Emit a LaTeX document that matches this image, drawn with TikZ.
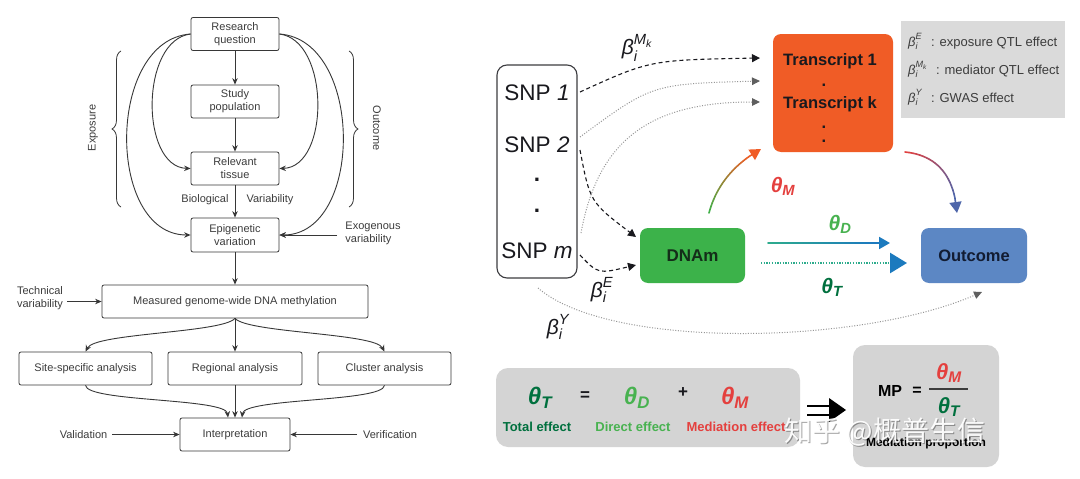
\documentclass[tikz,border=0pt]{standalone}
\usepackage{amsmath}
\usepackage{fontspec}
\setmainfont{Liberation Sans}
\newfontfamily\cjk{Noto Sans CJK SC}
\usetikzlibrary{arrows.meta,decorations.pathreplacing,calc}

\definecolor{flowtext}{RGB}{60,60,60}
\definecolor{flowline}{RGB}{55,55,55}
\definecolor{orangeT}{RGB}{240,92,38}
\definecolor{greenD}{RGB}{60,178,74}
\definecolor{blueO}{RGB}{92,135,196}
\definecolor{blueArr}{RGB}{78,102,170}
\definecolor{legray}{RGB}{218,218,218}
\definecolor{boxgray}{RGB}{212,212,212}
\definecolor{redM}{RGB}{228,64,62}
\definecolor{greenLt}{RGB}{72,178,80}
\definecolor{greenDk}{RGB}{0,112,62}
\definecolor{tealT}{RGB}{45,172,140}
\definecolor{blueT}{RGB}{28,122,190}
\definecolor{darktxt}{RGB}{25,25,30}
\definecolor{dotgray}{RGB}{150,150,150}
\definecolor{tipgray}{RGB}{95,95,95}

\newcommand\thsub[1]{θ\textsubscript{#1}}
\newcommand\bsym[1]{$\text{\itshape β}_{\text{\itshape i}}^{#1}$}
\newcommand\gradcurve[6]{%
  \foreach \gi in {1,...,20}{%
    \pgfmathsetmacro\gta{(\gi-1)*0.0425}%
    \pgfmathsetmacro\gtb{\gi*0.0425}%
    \pgfmathtruncatemacro\gpc{(\gi-0.5)*5}%
    \draw[line width=#6, line cap=round, draw=#5!\gpc!#4]
      ($($(#1)!\gta!(#2)$)!\gta!($(#2)!\gta!(#3)$)$) --
      ($($(#1)!\gtb!(#2)$)!\gtb!($(#2)!\gtb!(#3)$)$);
  }%
  \draw[line width=#6, draw=#5, -{Triangle[length=11pt,width=12pt]}]
    ($($(#1)!0.85!(#2)$)!0.85!($(#2)!0.85!(#3)$)$) -- (#3);
}

\tikzset{
  fbox/.style={draw=flowline, line width=0.8pt, rounded corners=2pt,
    minimum height=33pt, text=flowtext, font=\fontsize{11}{13}\selectfont,
    align=center, inner sep=1pt},
  farr/.style={draw=flowline, line width=0.9pt, -{Stealth[length=6.5pt,width=5.5pt]}},
  flab/.style={text=flowtext, font=\fontsize{11}{13}\selectfont, align=left, inner sep=0pt},
  snptxt/.style={font=\fontsize{22.5}{26}\selectfont, text=darktxt, inner sep=0pt},
  ttxt/.style={font=\bfseries\fontsize{16.5}{19}\selectfont, text=darktxt, inner sep=0pt},
  legtxt/.style={font=\fontsize{13}{15}\selectfont, text=flowtext, inner sep=0pt, anchor=base west},
  thlab/.style={font=\bfseries\itshape\fontsize{21}{24}\selectfont, inner sep=0pt},
  bigth/.style={font=\bfseries\itshape\fontsize{24}{26}\selectfont, inner sep=0pt},
  efflab/.style={font=\bfseries\fontsize{13}{15}\selectfont, inner sep=0pt},
  betalab/.style={font=\fontsize{21}{24}\selectfont, text=darktxt, inner sep=0pt},
  dasharr/.style={draw=darktxt, line width=1.1pt, dash pattern=on 4pt off 3pt,
    -{Triangle[length=8pt,width=8pt]}},
  dotarr/.style={draw=dotgray, line width=1pt, dash pattern=on 1pt off 1.6pt,
    -{Triangle[length=8pt,width=7.5pt,color=tipgray,fill=tipgray]}},
  colbox/.style={draw=none, rounded corners=8pt},
}

\begin{document}
\begin{tikzpicture}[x=1pt,y=-1pt]
\useasboundingbox (0,0) rectangle (1080,479);
\fill[white] (0,0) rectangle (1080,479);

% ---------------- left flowchart ----------------
\node[fbox, minimum width=88pt] (rq) at (235,34) {Research\\question};
\node[fbox, minimum width=88pt] (sp) at (235,101.5) {Study\\population};
\node[fbox, minimum width=88pt] (rt) at (235,168.5) {Relevant\\tissue};
\node[fbox, minimum width=88pt, minimum height=34pt] (ev) at (235,235) {Epigenetic\\variation};
\node[fbox, minimum width=266pt] (mg) at (235,301.5) {Measured genome-wide DNA methylation};
\node[fbox, minimum width=133pt] (ss) at (85.5,368.5) {Site-specific analysis};
\node[fbox, minimum width=134pt] (ra) at (235,368.5) {Regional analysis};
\node[fbox, minimum width=133pt] (ca) at (384.5,368.5) {Cluster analysis};
\node[fbox, minimum width=110pt] (ip) at (235,434.5) {Interpretation};

\draw[farr] (rq) -- (sp);
\draw[farr] (sp) -- (rt);
\draw[farr] (rt) -- (ev);
\draw[farr] (ev) -- (mg);
\draw[farr] (mg) -- (ra);
\draw[farr] (ra) -- (ip);

\draw[farr] (rq.west) .. controls (140,40) and (140,167) .. (rt.west);
\draw[farr] (rq.west) .. controls (106,40) and (106,235) .. (ev.west);
\draw[farr] (rq.east) .. controls (330,40) and (330,167) .. (rt.east);
\draw[farr] (rq.east) .. controls (364,40) and (364,235) .. (ev.east);

\draw[farr] (mg.south) .. controls (222,333) and (95,333) .. (ss.north);
\draw[farr] (mg.south) .. controls (248,333) and (375,333) .. (ca.north);
\draw[farr] (ss.south) .. controls (87,402) and (226,398) .. ([xshift=-7pt]ip.north);
\draw[farr] (ca.south) .. controls (383,402) and (244,398) .. ([xshift=7pt]ip.north);

\draw[flowline, line width=0.8pt, decorate, decoration={brace, amplitude=9pt}] (121,207) -- (121,51);
\draw[flowline, line width=0.8pt, decorate, decoration={brace, amplitude=9pt}] (349,51) -- (349,207);
\node[flab, rotate=90] (expo) at (93,128) {Exposure};
\node[flab, rotate=-90] (outc) at (377,128) {Outcome};

\node[flab] (bio) at (205,199.5) {Biological};
\node[flab] (var) at (270,199.5) {Variability};

\node[flab] (exo) at (373,233) {Exogenous\\variability};
\coordinate (exoa) at (337,235);
\draw[farr] (exoa) -- (ev.east);

\node[flab] (tech) at (40,298.5) {Technical\\variability};
\coordinate (techa) at (67,301.5);
\draw[farr] (techa) -- (mg.west);

\node[flab] (val) at (83.5,434.5) {Validation};
\coordinate (vala) at (112,434.5);
\draw[farr] (vala) -- (ip.west);

\node[flab] (ver) at (390,434.5) {Verification};
\coordinate (vera) at (357,434.5);
\draw[farr] (vera) -- (ip.east);

% ---------------- right diagram ----------------
\node[draw=darktxt!85, line width=1.1pt, rounded corners=10pt, minimum width=80pt,
      minimum height=213pt] (snp) at (537,171.5) {};
\node[snptxt, anchor=base] (s1) at (537,100) {SNP \textit{1}};
\node[snptxt, anchor=base] (s2) at (537,152) {SNP \textit{2}};
\node[snptxt] (sd1) at (537,180) {\textbf{.}};
\node[snptxt] (sd2) at (537,211) {\textbf{.}};
\node[snptxt, anchor=base] (sm) at (537,258) {SNP \textit{m}};

\node[colbox, fill=orangeT, minimum width=120pt, minimum height=118pt] (tr) at (833,93) {};
\node[ttxt, anchor=base] (tr1) at (830,65) {Transcript 1};
\node[ttxt] (trd1) at (824,85) {.};
\node[ttxt, anchor=base] (trk) at (830,108) {Transcript k};
\node[ttxt] (trd2) at (824,127) {.};
\node[ttxt] (trd3) at (824,141) {.};

\node[fill=legray, minimum width=164pt, minimum height=97pt, inner sep=0pt] (leg) at (983,69.5) {};
\node[legtxt] (lb1) at (908,46) {\bsym{\text{\itshape E}}};
\node[legtxt] (lt1) at (931,46) {: exposure QTL effect};
\node[legtxt] (lb2) at (908,74) {\bsym{\text{\itshape M}_{\text{\itshape k}}}};
\node[legtxt] (lt2) at (936,74) {: mediator QTL effect};
\node[legtxt] (lb3) at (908,102) {\bsym{\text{\itshape Y}}};
\node[legtxt] (lt3) at (931,102) {: GWAS effect};

\node[colbox, fill=greenD, minimum width=105pt, minimum height=55pt,
      font=\bfseries\fontsize{17}{20}\selectfont, text={rgb,255:red,20;green,45;blue,25}] (dnam) at (692.5,255.5) {DNAm};
\node[colbox, fill=blueO, minimum width=106pt, minimum height=55pt,
      font=\bfseries\fontsize{16.5}{20}\selectfont, text={rgb,255:red,18;green,28;blue,50}] (outc2) at (974,255.5) {Outcome};

% SNP connectors
\coordinate (p1) at (580,92);
\coordinate (p2) at (580,137);
\coordinate (p2b) at (580,150);
\coordinate (pm) at (581,233);
\coordinate (pmb) at (580,255);
\coordinate (py) at (538,288);
\coordinate (t1) at (760,58);
\coordinate (t2) at (760,81);
\coordinate (t3) at (760,102);
\coordinate (dm1) at (636,237);
\coordinate (dm2) at (636,265);
\coordinate (oy) at (982,292);

\draw[dasharr] (p1) .. controls (650,60) .. (t1);
\draw[dotarr] (p2) .. controls (652,84) .. (t2);
\draw[dotarr] (pm) .. controls (598,140) and (650,102) .. (t3);
\draw[dasharr] (p2b) .. controls (590,202) .. (dm1);
\draw[dasharr] (pmb) .. controls (598,274) .. (dm2);
\draw[dotarr] (py) .. controls (610,350) and (860,345) .. (oy);

\node[betalab] (bmk) at (637,48) {\bsym{\text{\itshape M}_{\text{\itshape k}}}};
\node[betalab] (be) at (602,290) {\bsym{\text{\itshape E}}};
\node[betalab] (by) at (558,327) {\bsym{\text{\itshape Y}}};

% effect arrows
\coordinate (g1a) at (709,213);
\coordinate (g1c) at (720,172);
\coordinate (g1b) at (761,149);
\gradcurve{g1a}{g1c}{g1b}{greenD}{orangeT}{1.6pt}

\coordinate (g2a) at (905,152);
\coordinate (g2c) at (953,157);
\coordinate (g2b) at (957,213);
\gradcurve{g2a}{g2c}{g2b}{redM}{blueArr}{1.6pt}

\coordinate (dA) at (768,243);
\coordinate (dC) at (828,243);
\coordinate (dB) at (890,243);
\gradcurve{dA}{dC}{dB}{tealT}{blueT}{2pt}

\coordinate (tA) at (761,263);
\coordinate (tB) at (907,263);
\draw[draw=tealT, line width=2.6pt, dash pattern=on 1.3pt off 1.4pt,
      -{Triangle[length=17pt,width=20pt,color=blueT,fill=blueT]}] (tA) -- (tB);

\node[thlab, text=redM] (thm) at (783,186) {\thsub{M}};
\node[thlab, text=greenLt] (thd) at (840,224) {\thsub{D}};
\node[thlab, text=greenDk] (tht) at (832,287) {\thsub{T}};

% ---------------- bottom formulas ----------------
\node[fill=boxgray, rounded corners=12pt, minimum width=304pt, minimum height=79pt] (eq) at (648,407.5) {};
\node[fill=boxgray, rounded corners=12pt, minimum width=146pt, minimum height=122pt] (mp) at (926,406) {};

\node[bigth, text=greenDk] (et) at (540,398) {\thsub{T}};
\node[efflab, font=\bfseries\fontsize{17}{20}\selectfont, text=darktxt] (eqs) at (585,396) {=};
\node[bigth, text=greenLt] (ed) at (637,398) {\thsub{D}};
\node[efflab, font=\bfseries\fontsize{17}{20}\selectfont, text=darktxt] (pls) at (683,393) {+};
\node[bigth, text=redM] (em) at (735,398) {\thsub{M}};

\node[efflab, text=greenDk] (tot) at (537,427) {Total effect};
\node[efflab, text=greenLt] (dir) at (633,427) {Direct effect};
\node[efflab, text=redM] (med) at (736,427) {Mediation effect};

% implication arrow
\coordinate (ia) at (807,410);
\coordinate (ib) at (846,410);
\draw[line width=2pt, draw=black] ($(ia)+(0,-4.5)$) -- ($(ib)+(-15,-4.5)$);
\draw[line width=2pt, draw=black] ($(ia)+(0,4.5)$) -- ($(ib)+(-15,4.5)$);
\fill[black] (ib) -- ($(ib)+(-17,-12)$) -- ($(ib)+(-17,12)$) -- cycle;

\node[efflab, font=\bfseries\fontsize{16}{19}\selectfont, text=black] (mpt) at (890,391) {MP};
\node[efflab, font=\bfseries\fontsize{16}{19}\selectfont, text=black] (mpe) at (917,391) {=};
\node[thlab, text=redM, font=\bfseries\itshape\fontsize{22}{24}\selectfont] (fm) at (949,373) {\thsub{M}};
\node[thlab, text=greenDk, font=\bfseries\itshape\fontsize{22}{24}\selectfont] (ft) at (949,407) {\thsub{T}};
\coordinate (fb1) at (929,389);
\coordinate (fb2) at (968,389);
\draw[line width=1.2pt, draw=flowtext] (fb1) -- (fb2);
\node[efflab, font=\bfseries\fontsize{12}{14}\selectfont, text=black] (mpl) at (926,443) {Mediation proportion};

% watermark
\node[font=\cjk\fontsize{28}{30}\selectfont, text=black, opacity=0.35] (wms) at (886,433) {知乎 @概普生信};
\node[font=\cjk\fontsize{28}{30}\selectfont, text=white, opacity=0.95] (wm) at (885,432) {知乎 @概普生信};
\end{tikzpicture}
\end{document}
